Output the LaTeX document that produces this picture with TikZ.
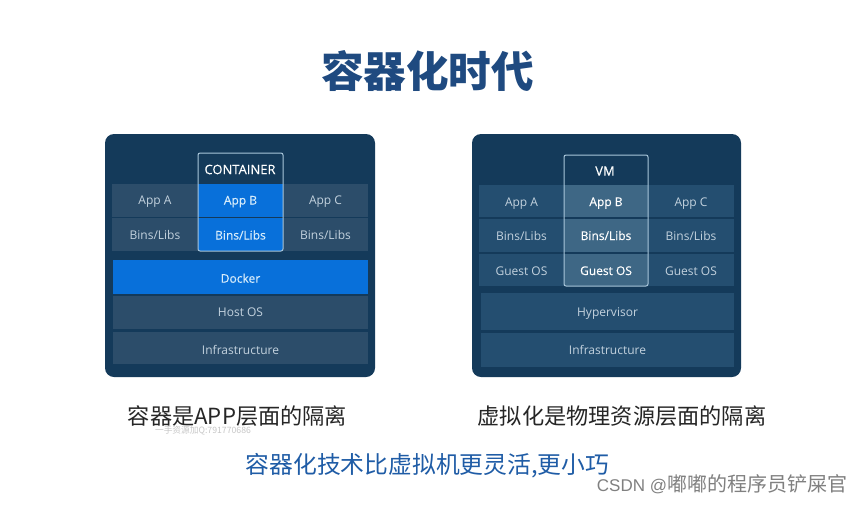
\documentclass[tikz,border=0pt]{standalone}
\usepackage{fontspec}
\setmainfont{Open Sans}
\newfontfamily\semi[FakeBold=0.35]{Open Sans}
\newfontfamily\cjk{Noto Sans CJK SC}
\newfontfamily\lib{Liberation Sans}
\definecolor{panel}{HTML}{143A5A}
\definecolor{cellc}{HTML}{2C4D6A}
\definecolor{cellv}{HTML}{244E70}
\definecolor{vmc}{HTML}{3E6785}
\definecolor{bluec}{HTML}{0870DA}
\definecolor{edgec}{HTML}{A9C6DA}
\definecolor{txt}{HTML}{C3D2DE}
\definecolor{bluetxt}{HTML}{D6ECFB}
\definecolor{titlec}{HTML}{1F4A80}
\definecolor{subc}{HTML}{1F5CA6}
\tikzset{
  base/.style={inner sep=0pt,outer sep=0pt,align=center,font=\fontsize{12}{14}\selectfont},
  panelbox/.style={base,fill=panel,rounded corners=9pt},
  cell/.style={base,fill=cellc,text=txt},
  cellvm/.style={base,fill=cellv,text=txt},
  bluecell/.style={base,fill=bluec,text=bluetxt,font=\semi\fontsize{12}{14}\selectfont},
  vmcell/.style={base,fill=vmc,text=white,font=\semi\fontsize{12}{14}\selectfont},
  frame/.style={base,draw=edgec,line width=1pt,rounded corners=2pt},
  toptext/.style={base,text=white,font=\semi\fontsize{13}{14}\selectfont},
  titletext/.style={inner sep=0pt,text=titlec,font=\cjk\fontsize{42.6}{46}\selectfont\bfseries},
  captext/.style={inner sep=0pt,text=black!85,font=\cjk\fontsize{22.2}{26}\selectfont},
  captextb/.style={inner sep=0pt,text=black!85,font=\cjk\fontsize{22.2}{28}\selectfont},
  subtext/.style={inner sep=0pt,text=subc,font=\cjk\fontsize{23.8}{28}\selectfont},
  marktext/.style={inner sep=0pt,text=black!22,font=\cjk\fontsize{8.7}{11}\selectfont},
  csdn/.style={inner sep=0pt,text=black!50,font=\cjk\fontsize{20}{22}\selectfont}
}
\newcommand{\bx}[7]{\node[#6,minimum width={(#4-#2)*1pt},minimum height={(#5-#3)*1pt}] (#1) at ({(#2+#4)/2},{(#3+#5)/2}) {#7};}
\newcommand{\dn}[2]{\raisebox{-#1pt}[0pt][0pt]{#2}}
\begin{document}
\begin{tikzpicture}[x=1pt,y=-1pt]
\useasboundingbox (0,0) rectangle (862,504);
\fill[white] (0,0) rectangle (862,504);
\node[titletext] (title) at (427.5,71) {容器化时代};
% left panel
\bx{lp}{105}{134}{375}{377}{panelbox}{}
\bx{la}{112}{184}{198}{217}{cell}{\dn{4}{App A}}
\bx{lb}{112}{218}{198}{251}{cell}{\dn{5}{Bins/Libs}}
\bx{lc}{283}{184}{368}{217}{cell}{\dn{4}{App C}}
\bx{ld}{283}{218}{368}{251}{cell}{\dn{5}{Bins/Libs}}
\bx{lba}{198}{184}{283}{217}{bluecell}{\dn{4}{App B}}
\bx{lbb}{198}{218}{283}{251}{bluecell}{\dn{5}{Bins/Libs}}
\bx{lf}{198}{153}{283}{251}{frame}{}
\node[toptext] (lt) at (240,169.5) {CONTAINER};
\bx{ldo}{113}{260}{368}{294}{bluecell}{\dn{5.7}{Docker}}
\bx{lh}{113}{296}{368}{329}{cell}{\dn{3.5}{Host OS}}
\bx{li}{113}{332}{368}{364}{cell}{\dn{6}{Infrastructure}}
% right panel
\bx{rp}{472}{134}{741}{377}{panelbox}{}
\bx{ra}{479}{185}{564}{217}{cellvm}{\dn{5}{App A}}
\bx{rb}{479}{219}{564}{252}{cellvm}{\dn{4.5}{Bins/Libs}}
\bx{rg}{479}{254}{564}{286}{cellvm}{\dn{5}{Guest OS}}
\bx{rc}{648}{185}{734}{217}{cellvm}{\dn{5}{App C}}
\bx{rd}{648}{219}{734}{252}{cellvm}{\dn{4.5}{Bins/Libs}}
\bx{re}{648}{254}{734}{286}{cellvm}{\dn{5}{Guest OS}}
\bx{rma}{564}{185}{648}{217}{vmcell}{\dn{5}{App B}}
\bx{rmb}{564}{219}{648}{252}{vmcell}{\dn{4.5}{Bins/Libs}}
\bx{rmc}{564}{254}{648}{286}{vmcell}{\dn{5}{Guest OS}}
\bx{rf}{564}{155}{648}{286}{frame}{}
\node[toptext] (rt) at (605,171) {VM};
\bx{rh}{481}{293}{734}{330}{cellvm}{\dn{5.2}{Hypervisor}}
\bx{ri}{481}{333}{734}{367}{cellvm}{\dn{4.3}{Infrastructure}}
% captions
\node[captext] (c1) at (237.5,416) {容器是APP层面的隔离};
\node[marktext] (mk) at (203,430.5) {一手资源加Q:791770686};
\node[captextb] (c2) at (622,416) {虚拟化是物理资源层面的隔离};
\node[subtext] (c3) at (427.5,466) {容器化技术比虚拟机更灵活,更小巧};
\node[csdn] (c4) at (722,484) {{\lib\fontsize{17}{20}\selectfont CSDN @}嘟嘟的程序员铲屎官};
\end{tikzpicture}
\end{document}
